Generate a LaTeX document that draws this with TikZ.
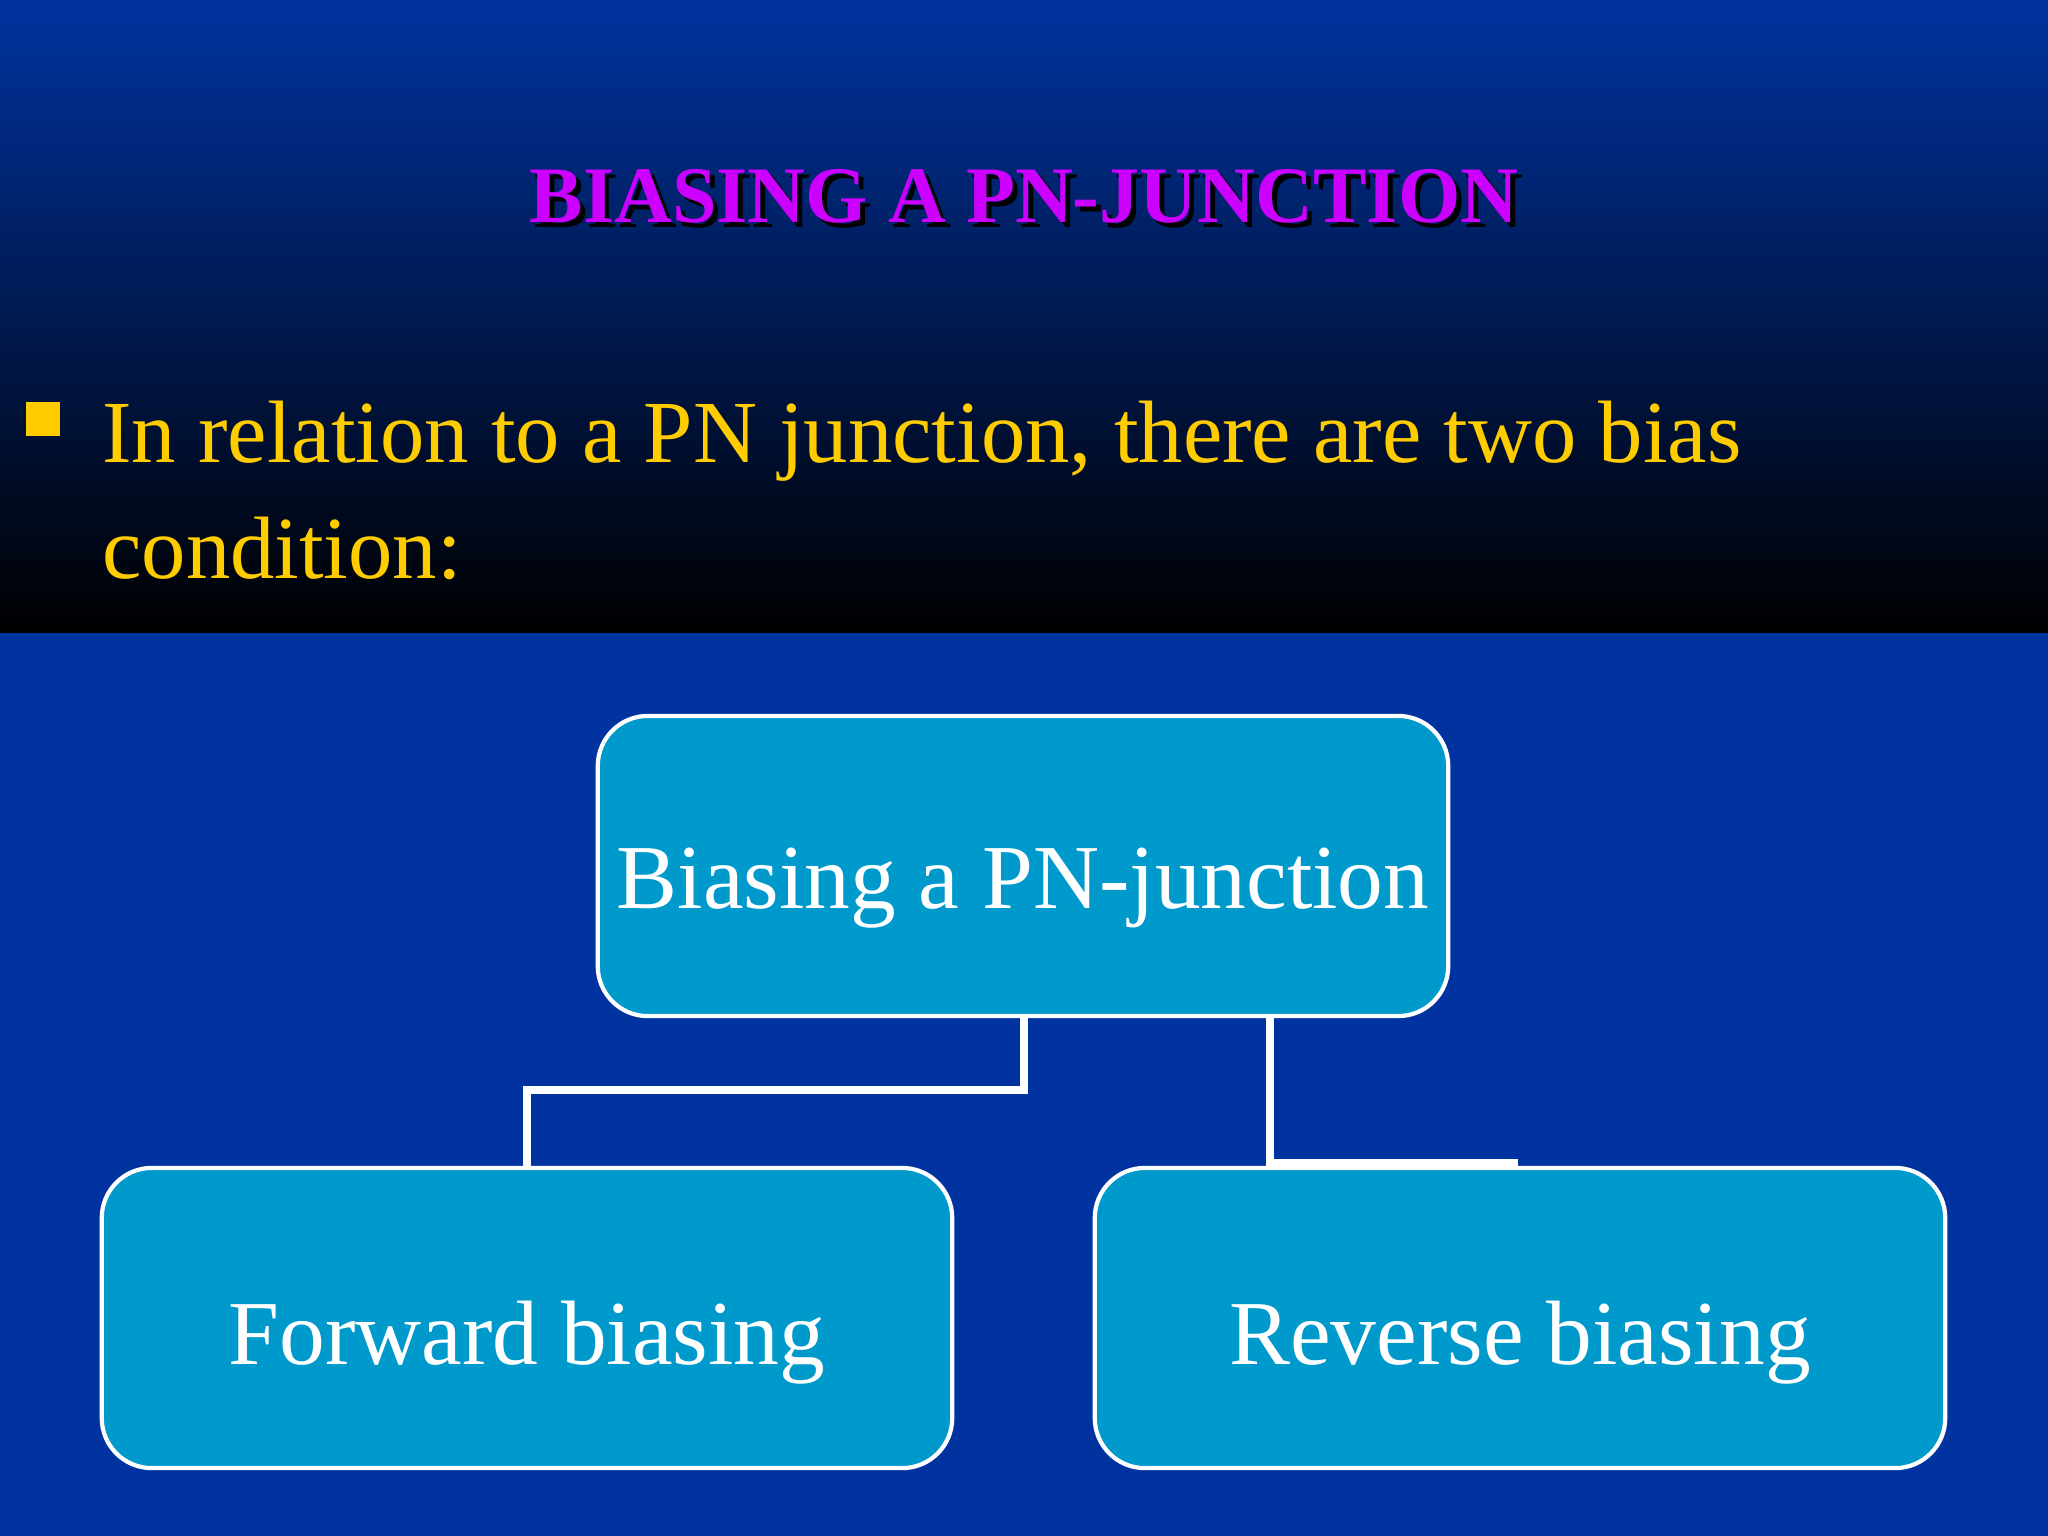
\documentclass[tikz,border=0pt]{standalone}
\usepackage{fontspec}
\setmainfont{Liberation Serif}
\definecolor{bg}{HTML}{0033A0}
\definecolor{boxc}{HTML}{0099CC}
\definecolor{ttl}{HTML}{CC00FF}
\definecolor{yel}{HTML}{FFCC00}
\begin{document}
\begin{tikzpicture}[x=0.01cm,y=-0.01cm,
  box/.style={draw=white,line width=1.2pt,fill=boxc,rounded corners=0.5cm,minimum width=8.5cm,minimum height=3cm},
  boxtext/.style={text=white,font=\fontsize{26pt}{30pt}\selectfont},
  conn/.style={draw=white,line width=2.5pt}]
\useasboundingbox (0,0) rectangle (2048,1536);
\fill[bg] (0,0) rectangle (2048,1536);
\shade[top color=bg,bottom color=black] (0,0) rectangle (2048,632);
\node[font=\bfseries\fontsize{22.8pt}{26pt}\selectfont,text=black] at (1029,201) {BIASING A PN-JUNCTION};
\node[font=\bfseries\fontsize{22.8pt}{26pt}\selectfont,text=ttl] (title) at (1024,196) {BIASING A PN-JUNCTION};
\fill[yel] (26,402) rectangle (60,436);
\node[anchor=west,text=yel,font=\fontsize{25.2pt}{33pt}\selectfont,align=left] (txt) at (90,490) {In relation to a PN junction, there are two bias\\condition:};
\node[box] (top) at (1023,866) {};
\node[box] (fwd) at (527,1318) {};
\node[box] (rev) at (1520,1318) {};
\node[boxtext] (topt) at (1023,888) {Biasing a PN-junction};
\node[boxtext] (fwdt) at (527,1343) {Forward biasing};
\node[boxtext] (revt) at (1520,1343) {Reverse biasing};
\coordinate (b) at (1270,1163);
\draw[conn] (top.south) ++(1,0) |- (527,1090) -- (fwd.north -| 527,0);
\draw[conn] (top.south -| 1270,0) -- (b) -- (1518,1163);
\end{tikzpicture}
\end{document}
